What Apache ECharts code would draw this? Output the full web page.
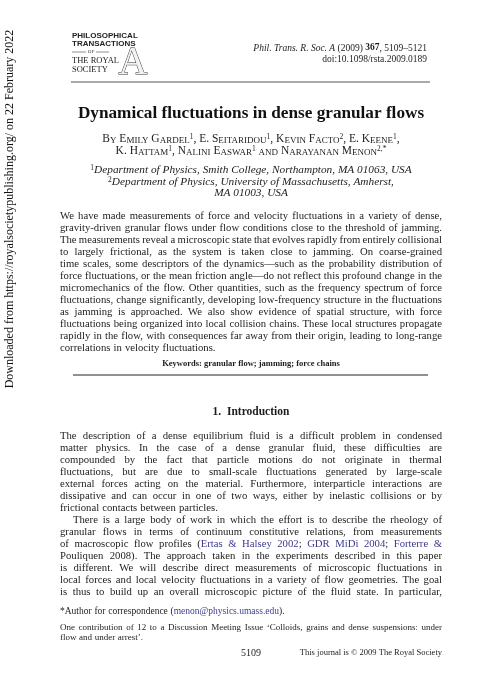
<!DOCTYPE html>
<html><head><meta charset="utf-8">
<script src="https://cdn.jsdelivr.net/npm/echarts@6/dist/echarts.min.js"></script>
<style>html,body{margin:0;padding:0;background:#fff}#c{width:493px;height:700px}</style>
</head><body><div id="c"></div>
<script>
// ---------- content ----------
const sideText = "Downloaded from https://royalsocietypublishing.org/ on 22 February 2022";
const logoLines = ["PHILOSOPHICAL", "TRANSACTIONS", "OF", "THE ROYAL", "SOCIETY"];
const logoLetter = "A";
const journalRef = "{i|Phil. Trans. R. Soc. A} {n|(2009)} {b|367}{n|, 5109–5121}";
const doiText = "doi:10.1098/rsta.2009.0189";
const titleText = "Dynamical fluctuations in dense granular flows";
const authorLines = [
  "By Emily Gardel^[1], E. Seitaridou^[1], Kevin Facto^[2], E. Keene^[1],",
  "K. Hattam^[1], Nalini Easwar^[1] and Narayanan Menon^[2,*]"
];
const affiliationLines = [
  "^[1]Department of Physics, Smith College, Northampton, MA 01063, USA",
  "^[2]Department of Physics, University of Massachusetts, Amherst,",
  "MA 01003, USA"
];
const abstractLines = [
  "We have made measurements of force and velocity fluctuations in a variety of dense,",
  "gravity-driven granular flows under flow conditions close to the threshold of jamming.",
  "The measurements reveal a microscopic state that evolves rapidly from entirely collisional",
  "to largely frictional, as the system is taken close to jamming. On coarse-grained",
  "time scales, some descriptors of the dynamics—such as the probability distribution of",
  "force fluctuations, or the mean friction angle—do not reflect this profound change in the",
  "micromechanics of the flow. Other quantities, such as the frequency spectrum of force",
  "fluctuations, change significantly, developing low-frequency structure in the fluctuations",
  "as jamming is approached. We also show evidence of spatial structure, with force",
  "fluctuations being organized into local collision chains. These local structures propagate",
  "rapidly in the flow, with consequences far away from their origin, leading to long-range",
  "correlations in velocity fluctuations."
];
const keywordsText = "Keywords: granular flow; jamming; force chains";
const sectionHeading = "1.  Introduction";
const introLines = [
  "The description of a dense equilibrium fluid is a difficult problem in condensed",
  "matter physics. In the case of a dense granular fluid, these difficulties are",
  "compounded by the fact that particle motions do not originate in thermal",
  "fluctuations, but are due to small-scale fluctuations generated by large-scale",
  "external forces acting on the material. Furthermore, interparticle interactions are",
  "dissipative and can occur in one of two ways, either by inelastic collisions or by",
  "frictional contacts between particles.",
  "There is a large body of work in which the effort is to describe the rheology of",
  "granular flows in terms of continuum constitutive relations, from measurements",
  "of macroscopic flow profiles (⟨Ertas & Halsey 2002⟩; ⟨GDR MiDi 2004⟩; ⟨Forterre &",
  "Pouliquen 2008⟩). The approach taken in the experiments described in this paper",
  "is different. We will describe direct measurements of microscopic fluctuations in",
  "local forces and local velocity fluctuations in a variety of flow geometries. The goal",
  "is thus to build up an overall microscopic picture of the fluid state. In particular,"
];
const introParagraphEnds = [6];
const introIndented = [7];
const footnoteText = "*Author for correspondence (⟨menon@physics.umass.edu⟩).";
const contributionLines = [
  "One contribution of 12 to a Discussion Meeting Issue ‘Colloids, grains and dense suspensions: under",
  "flow and under arrest’."
];
const pageNumber = "5109";
const copyrightText = "This journal is © 2009 The Royal Society";

// ---------- layout helpers ----------
const SERIF = "'Liberation Serif','Times New Roman',serif";
const SANS = "'Liberation Sans',Arial,sans-serif";
const INK = '#1c1c1c';
const CITE = '#3d3b8c';
const ctx = document.createElement('canvas').getContext('2d');
function measure(t, font) { ctx.font = font; return ctx.measureText(t).width; }

const els = [];
function txt(x, y, text, font, extra) {
  const st = Object.assign({ text: text, font: font, fill: INK, align: 'left', verticalAlign: 'middle',
    textAlign: 'left', textVerticalAlign: 'middle' }, extra || {});
  if (st.align) st.textAlign = st.align;
  els.push({ type: 'text', x: x, y: y, silent: true, style: st });
}
function rule(x1, y1, x2, y2, color, w) {
  els.push({ type: 'line', silent: true, shape: { x1: x1, y1: y1, x2: x2, y2: y2 }, style: { stroke: color, lineWidth: w } });
}

function parseWords(line) {
  let inC = false; const out = [];
  line.split(' ').forEach(function (w) {
    let plain = '', rich = '', seg = '', segC = inC;
    const flush = function () { if (seg) { rich += (segC ? '{c|' : '{k|') + seg + '}'; seg = ''; } };
    for (const ch of w) {
      if (ch === '⟨') { flush(); inC = true; segC = true; continue; }
      if (ch === '⟩') { flush(); inC = false; segC = false; continue; }
      seg += ch; plain += ch;
    }
    flush();
    out.push({ plain: plain, rich: rich });
  });
  return out;
}

function paragraph(lines, x0, x1, y0, lh, font, opts) {
  opts = opts || {};
  const free = opts.free || [];
  const indent = opts.indent || [];
  const rich = { k: { font: font, fill: INK }, c: { font: font, fill: CITE } };
  lines.forEach(function (line, i) {
    const words = parseWords(line);
    const sx = x0 + (indent.indexOf(i) >= 0 ? 13 : 0);
    const widths = words.map(function (w) { return measure(w.plain, font); });
    const total = widths.reduce(function (a, b) { return a + b; }, 0);
    let gap = measure(' ', font) * 1.15;
    if (free.indexOf(i) < 0 && words.length > 1) gap = (x1 - sx - total) / (words.length - 1);
    let x = sx;
    const y = y0 + i * lh;
    words.forEach(function (w, j) {
      txt(x, y, w.rich, font, { rich: rich });
      x += widths[j] + gap;
    });
  });
}

function smallCaps(line) {
  let out = '', i = 0;
  const isLow = function (c) { return c >= 'a' && c <= 'z'; };
  while (i < line.length) {
    if (line[i] === '^') { const j = line.indexOf(']', i); out += '{u|' + line.slice(i + 2, j) + '}'; i = j + 1; continue; }
    const low = isLow(line[i]);
    let j = i;
    while (j < line.length && line[j] !== '^' && isLow(line[j]) === low) j++;
    const seg = line.slice(i, j);
    out += low ? '{s|' + seg.toUpperCase() + '}' : '{b|' + seg + '}';
    i = j;
  }
  return out;
}
function supItalic(line) {
  let out = '', i = 0;
  while (i < line.length) {
    if (line[i] === '^') { const j = line.indexOf(']', i); out += '{u|' + line.slice(i + 2, j) + '}'; i = j + 1; continue; }
    let j = line.indexOf('^', i); if (j < 0) j = line.length;
    out += '{i|' + line.slice(i, j) + '}';
    i = j;
  }
  return out;
}

// ---------- page ----------
const CX = 251;
// side stamp
txt(10, 209, sideText, '12px ' + SERIF, { align: 'center', fill: '#111' });
els[els.length - 1].rotation = Math.PI / 2;

// logo
txt(72, 36, logoLines[0], 'bold 8px ' + SANS, { fill: '#222' });
txt(72, 43.5, logoLines[1], 'bold 8px ' + SANS, { fill: '#222' });
txt(91, 52, logoLines[2], '5px ' + SERIF, { align: 'center', fill: '#333' });
rule(72, 52, 86, 52, '#444', 0.6);
rule(96, 52, 109, 52, '#444', 0.6);
txt(72, 60.5, logoLines[3], '8.5px ' + SERIF, { fill: '#222' });
txt(72, 69.5, logoLines[4], '8.5px ' + SERIF, { fill: '#222' });
txt(133, 63, logoLetter, '40px ' + SERIF, { align: 'center', fill: '#f2f2f2', stroke: '#333', lineWidth: 0.9 });

// journal reference
txt(427, 48, journalRef, '9.5px ' + SERIF, { align: 'right', rich: {
  i: { font: 'italic 9.5px ' + SERIF, fill: INK }, n: { font: '9.5px ' + SERIF, fill: INK },
  b: { font: 'bold 9.5px ' + SERIF, fill: INK } } });
txt(427, 59.5, doiText, '9.5px ' + SERIF, { align: 'right' });
rule(71, 82, 430, 82, '#555', 1);

// title
txt(CX, 114, titleText, 'bold 17.2px ' + SERIF, { align: 'center', fill: '#111' });

// authors
const scRich = {
  b: { font: '11.5px ' + SERIF, fill: INK, lineHeight: 11.5, verticalAlign: 'bottom' },
  s: { font: '9px ' + SERIF, fill: INK, lineHeight: 9.6, verticalAlign: 'bottom' },
  u: { font: '7.5px ' + SERIF, fill: INK, lineHeight: 7.5, verticalAlign: 'top' }
};
authorLines.forEach(function (l, i) {
  txt(CX, 139 + i * 12, smallCaps(l), '11.5px ' + SERIF, { align: 'center', rich: scRich });
});
const affRich = {
  i: { font: 'italic 11.3px ' + SERIF, fill: INK, lineHeight: 11.3, verticalAlign: 'bottom' },
  u: { font: '7.5px ' + SERIF, fill: INK, lineHeight: 7.5, verticalAlign: 'top' }
};
affiliationLines.forEach(function (l, i) {
  txt(CX, 170 + i * 11.5, supItalic(l), 'italic 11.3px ' + SERIF, { align: 'center', rich: affRich });
});

// abstract
const BODY = '10.7px ' + SERIF;
paragraph(abstractLines, 60, 442, 216, 12, BODY, { free: [abstractLines.length - 1] });
txt(CX, 364, keywordsText, 'bold 8.5px ' + SERIF, { align: 'center' });
rule(73, 375, 428, 375, '#222', 1);

// introduction
txt(CX, 412, sectionHeading, 'bold 11.5px ' + SERIF, { align: 'center' });
paragraph(introLines, 60, 442, 436, 12, BODY, { free: introParagraphEnds, indent: introIndented });

// footnotes
paragraph([footnoteText], 60, 442, 611, 10, '9.5px ' + SERIF, { free: [0] });
paragraph(contributionLines, 60, 442, 628, 9.5, '9px ' + SERIF, { free: [1] });

// bottom line
txt(CX, 653, pageNumber, '10px ' + SERIF, { align: 'center' });
txt(442, 653, copyrightText, '8.5px ' + SERIF, { align: 'right' });

const chart = echarts.init(document.getElementById('c'), null, { renderer: 'canvas' });
chart.setOption({ backgroundColor: '#ffffff', animation: false, graphic: { elements: els } });
</script>
</body></html>
